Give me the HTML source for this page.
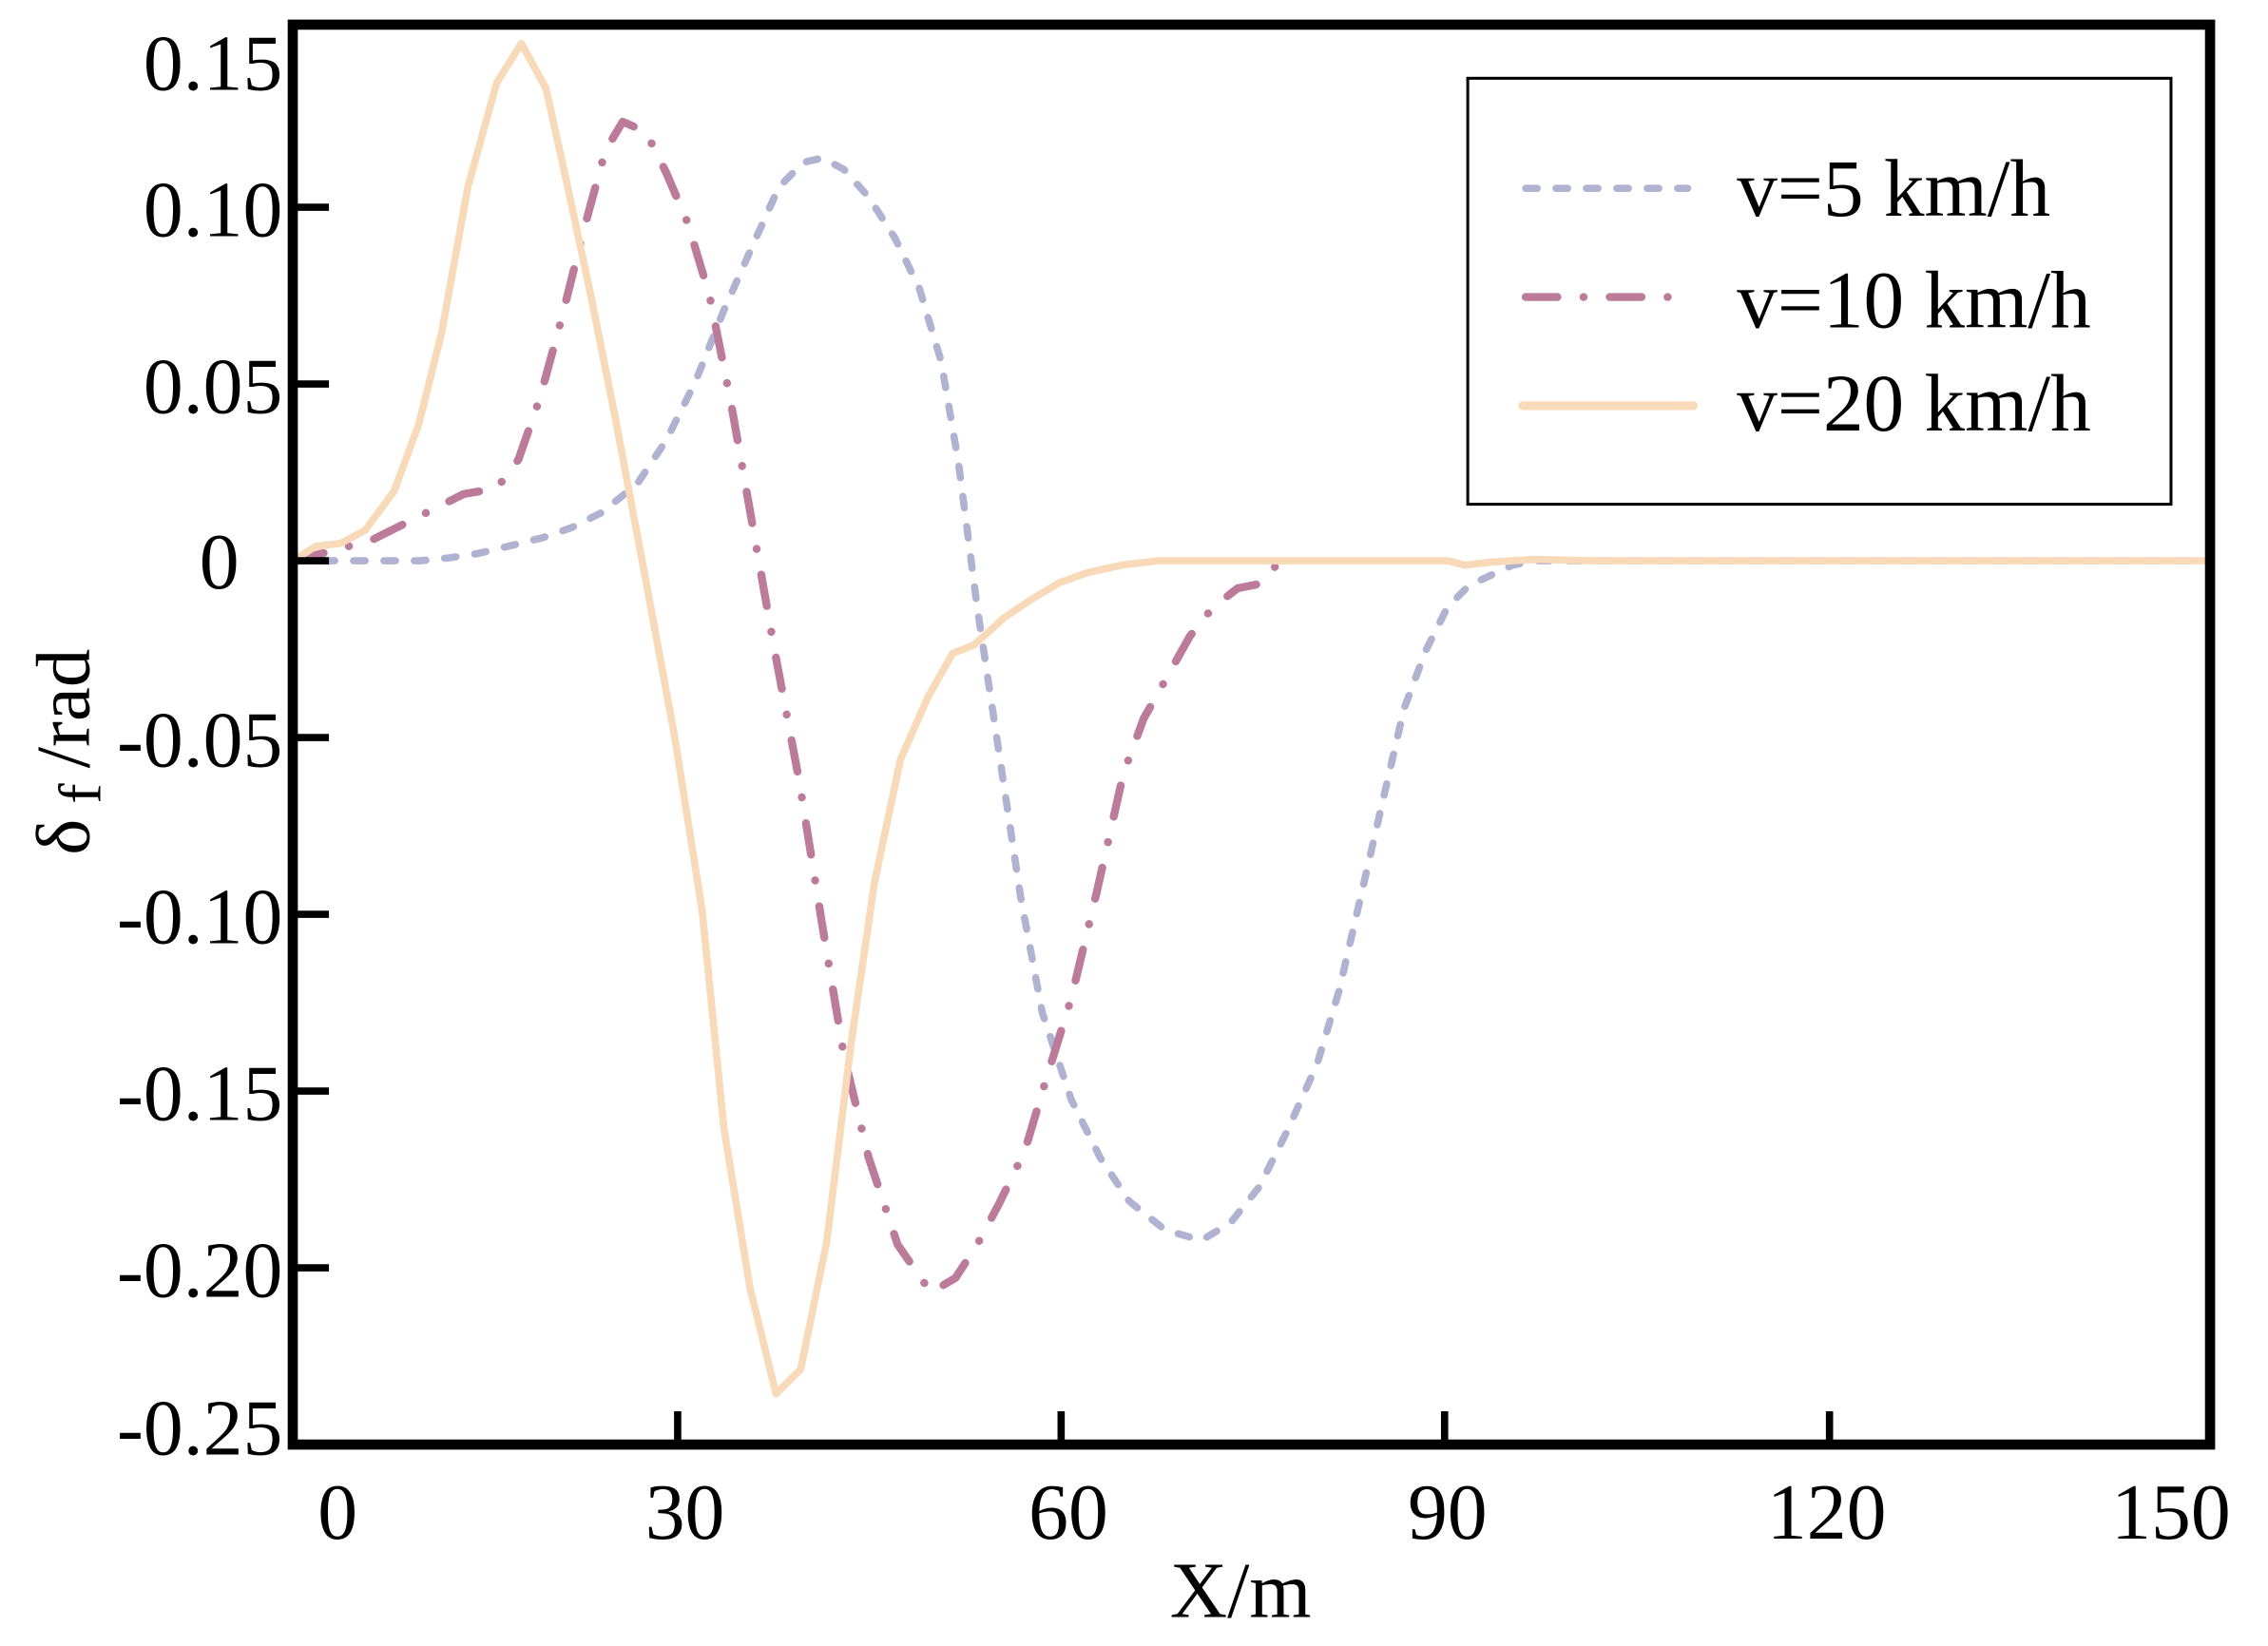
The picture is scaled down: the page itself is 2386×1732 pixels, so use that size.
<!DOCTYPE html>
<html><head><meta charset="utf-8"><style>html,body{margin:0;padding:0;background:#fff}svg{display:block}</style></head>
<body>
<svg width="2386" height="1732" viewBox="0 0 2386 1732" xmlns="http://www.w3.org/2000/svg">
<rect width="2386" height="1732" fill="#fff"/>
<g transform="translate(0.5,-1.5) scale(1.5223,1.5246)" font-family="Liberation Serif, serif">
<defs><clipPath id="c"><rect x="202" y="18" width="1325" height="980"/></clipPath></defs>
<g clip-path="url(#c)" fill="none" stroke-linejoin="round">
<polyline stroke="#b0b2d2" stroke-width="5" stroke-linecap="round" stroke-dasharray="8 13" points="202,388 260,388 290,388 310,386 330,383 355,377 375,372 395,365 415,355 440,335 460,305 480,265 500,215 520,170 538,130 555,113 568,110 583,118 600,137 618,165 635,200 650,250 662,320 675,420 690,520 705,620 720,700 740,760 760,800 780,830 805,850 830,857 850,845 870,820 890,780 910,735 925,685 940,620 955,555 970,490 985,450 1000,420 1015,405 1030,398 1045,391 1060,388 1527,388"/>
<polyline stroke="#bd7b9b" stroke-width="5.5" stroke-linecap="round" stroke-dasharray="22 18 0.1 18" points="202,388 230,381 258,373 290,357 320,342 343,338 358,318 373,275 388,220 403,160 418,105 430,85 446,92 460,120 475,155 490,205 505,280 520,365 535,450 552,540 568,640 583,730 600,800 620,860 643,893 660,883 675,860 690,832 708,795 722,748 740,690 758,615 776,535 790,497 808,465 822,440 838,420 855,407 870,404 880,393 885,388"/>
<polyline stroke="#f8d9b8" stroke-width="5" points="202,388 218,378 235,376 252,367 272,340 289,294 305,230 323,130 343,58 360,31 377,62 392,130 408,205 425,290 447,407 466,510 485,630 500,780 518,890 536,963 553,946 571,858 588,720 604,610 622,525 641,482 658,452 673,446 694,427 712,415 732,403 752,396 775,391 800,388 1000,388 1012,391 1030,389 1060,387 1100,388 1527,388"/>
</g>
<g stroke="#000" stroke-width="5">
<path d="M202,144H227M202,266H227M202,388H227M202,510H227M202,632H227M202,754H227M202,876H227"/>
<path d="M468,998V975M733,998V975M998,998V975M1264,998V975"/>
</g>
<rect x="202" y="18" width="1325" height="980" fill="none" stroke="#000" stroke-width="7"/>
<g font-size="55" text-anchor="end">
<text x="195" y="63">0.15</text><text x="195" y="164">0.10</text><text x="195" y="286">0.05</text>
<text x="165" y="407">0</text><text x="195" y="530">-0.05</text><text x="195" y="652">-0.10</text>
<text x="195" y="774">-0.15</text><text x="195" y="896">-0.20</text><text x="195" y="1005">-0.25</text>
</g>
<g font-size="55" text-anchor="middle">
<text x="233" y="1063">0</text><text x="473" y="1063">30</text><text x="738" y="1063">60</text>
<text x="1000" y="1063">90</text><text x="1262" y="1063">120</text><text x="1500" y="1063">150</text>
<text x="857" y="1117">X/m</text>
</g>
<text transform="translate(61,520) rotate(-90)" font-size="53" text-anchor="middle">δ<tspan font-size="42" dy="8"> f </tspan><tspan dy="-8">/rad</tspan></text>
<rect x="1014" y="55" width="486" height="294" fill="#fff" stroke="#000" stroke-width="2"/>
<g fill="none" stroke-linecap="round">
<path d="M1054,131H1166" stroke="#b0b2d2" stroke-width="5" stroke-dasharray="8 13"/>
<path d="M1054,206H1170" stroke="#bd7b9b" stroke-width="5.5" stroke-dasharray="22 18 0.1 18"/>
<path d="M1052,281H1170" stroke="#f8d9b8" stroke-width="6"/>
</g>
<g font-size="56">
<text x="1200" y="150">v=5 km/h</text><text x="1200" y="227">v=10 km/h</text><text x="1200" y="298">v=20 km/h</text>
</g>
</g>
</svg>
</body></html>
